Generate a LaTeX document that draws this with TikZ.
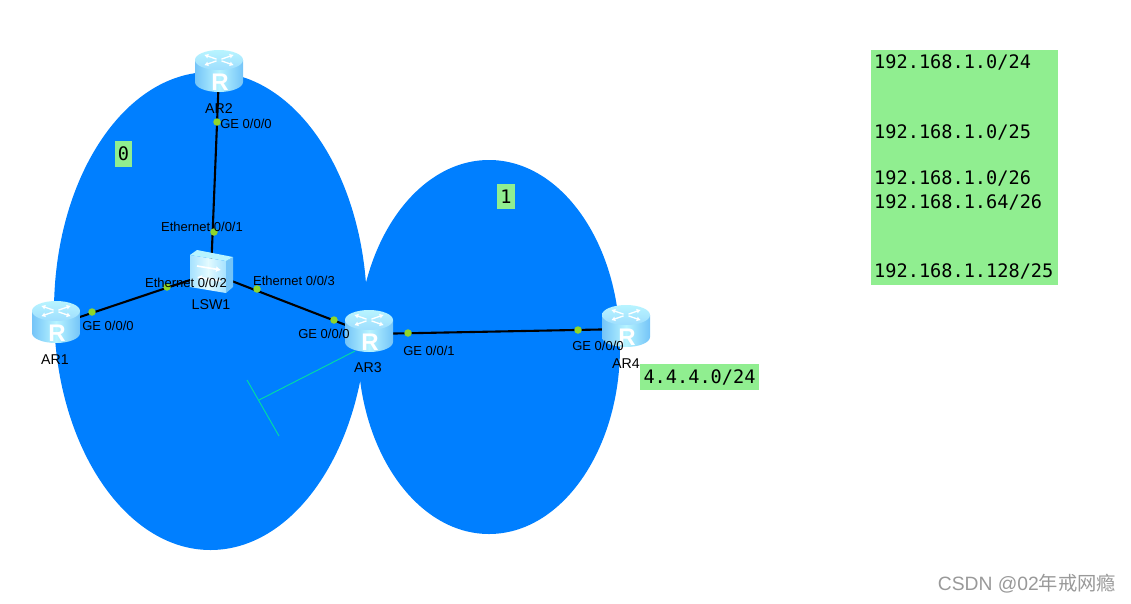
\documentclass[tikz,border=0pt]{standalone}
\usepackage{fontspec}
\setmainfont{Liberation Sans}
\newfontfamily\monofont{DejaVu Sans Mono}
\newfontfamily\cjk{Noto Sans CJK SC}
\usetikzlibrary{arrows.meta}
\usetikzlibrary{shapes.geometric}

\definecolor{areablue}{HTML}{007FFF}
\definecolor{notegreen}{HTML}{90EE90}
\definecolor{portgreen}{HTML}{8FD62A}
\definecolor{stubgreen}{HTML}{00DFA0}
\definecolor{iconlight}{HTML}{B8F4FF}
\definecolor{iconmid}{HTML}{A6E2FF}
\definecolor{icondark}{HTML}{74C4F8}

\tikzset{
  area/.style={ellipse, fill=areablue, inner sep=0pt},
  device/.style={inner sep=0pt, minimum size=1pt},
  link/.style={line width=2.1pt, black},
  stub/.style={line width=0.9pt, stubgreen},
  port/.style={circle, fill=portgreen, inner sep=0pt, minimum size=7.5pt},
  portlabel/.style={inner sep=0pt, font=\fontsize{13}{13}\selectfont},
  devlabel/.style={inner sep=0pt, font=\fontsize{14.2}{14}\selectfont},
  note/.style={fill=notegreen, inner sep=0pt, font=\monofont\fontsize{18.6}{19}\selectfont},
  noteline/.style={inner sep=0pt, anchor=base west, font=\monofont\fontsize{18.6}{19}\selectfont},
  routericon/.pic={
    \shade[left color=icondark, right color=icondark, middle color=iconlight]
      (-24,-14) -- (-24,8) arc (180:0:24 and 10) -- (24,-14) -- cycle;
    \shade[top color=iconlight, bottom color=iconmid!85!icondark] (0,-14) ellipse (24 and 10);
    \foreach \ang in {35,145,215,325}
      \draw[white, line width=1.3pt, -{Latex[length=4pt,width=5pt]}]
        (\ang:3 and 1.5) ++(0,-14) -- ++(\ang:15 and 7.5);
    \node[inner sep=0pt, text=white, font=\bfseries\fontsize{24}{24}\selectfont] (letter) at (1,8) {R};
  },
  switchicon/.pic={
    \fill[icondark] (15,-12) -- (22,-16) -- (22,14) -- (15,20) -- cycle;
    \shade[left color=iconmid, right color=iconmid, middle color=iconlight!40!white]
      (-21,-18) -- (15,-12) -- (15,20) -- (-21,14) -- cycle;
    \fill[iconlight] (-21,-18) -- (-14,-23) -- (22,-16) -- (15,-12) -- cycle;
    \draw[white, line width=1.6pt, -{Latex[length=5pt,width=6pt]}] (-14,-7) -- (10,-3);
    \draw[white, line width=1.6pt, -{Latex[length=5pt,width=6pt]}] (10,8) -- (-14,4);
  },
}

\begin{document}
\begin{tikzpicture}[x=1pt,y=-1pt]
  \useasboundingbox (0,0) rectangle (1131,603);
  % Areas
  \node[area, minimum width=313pt, minimum height=478pt] (area0) at (210.5,311) {};
  \node[area, minimum width=262pt, minimum height=374pt] (area1) at (489,347) {};
  % Devices
  \node[device] (AR1) at (56,325) {};
  \node[device] (AR2) at (219,74) {};
  \node[device] (AR3) at (369,334) {};
  \node[device] (AR4) at (626,329) {};
  \node[device] (LSW1) at (211,273) {};
  % Links
  \draw[link] (AR1) -- (LSW1);
  \draw[link] (AR2) -- (LSW1);
  \draw[link] (LSW1) -- (AR3);
  \draw[link] (AR3) -- (AR4);
  % Stub
  \coordinate (stubfoot) at (259,400);
  \coordinate (stubtop) at (247,380);
  \coordinate (stubend) at (279,436);
  \draw[stub] (AR3) ++(-14,17) -- (stubfoot);
  \draw[stub] (stubtop) -- (stubend);
  % Icons
  \pic (AR1icon) at (AR1) {routericon};
  \pic (AR2icon) at (AR2) {routericon};
  \pic (AR3icon) at (AR3) {routericon};
  \pic (AR4icon) at (AR4) {routericon};
  \pic (LSW1icon) at (LSW1) {switchicon};
  % Ports
  \node[port] (p1) at (92,312) {};
  \node[port] (p2) at (167,287) {};
  \node[port] (p3) at (217,122) {};
  \node[port] (p4) at (214,232) {};
  \node[port] (p5) at (257,289) {};
  \node[port] (p6) at (334,320) {};
  \node[port] (p7) at (408,333) {};
  \node[port] (p8) at (578,330) {};
  % Labels
  \node[portlabel] (l1) at (108,326) {GE 0/0/0};
  \node[portlabel] (l2) at (186,283) {Ethernet 0/0/2};
  \node[portlabel] (l3) at (246,124) {GE 0/0/0};
  \node[portlabel] (l4) at (202,227) {Ethernet 0/0/1};
  \node[portlabel] (l5) at (294,281) {Ethernet 0/0/3};
  \node[portlabel] (l6) at (324,334) {GE 0/0/0};
  \node[portlabel] (l7) at (429,351) {GE 0/0/1};
  \node[portlabel] (l8) at (598,346) {GE 0/0/0};
  \node[devlabel] (nAR1) at (55,360) {AR1};
  \node[devlabel] (nAR2) at (219,109) {AR2};
  \node[devlabel] (nAR3) at (368,368) {AR3};
  \node[devlabel] (nAR4) at (626,364) {AR4};
  \node[devlabel] (nLSW1) at (211,305) {LSW1};
  % Notes
  \node[note, minimum width=17pt, minimum height=26pt] (id0) at (123.5,154) {0};
  \node[note, minimum width=18pt, minimum height=25pt] (id1) at (506,196.5) {1};
  \node[note, minimum width=119pt, minimum height=26pt] (loop4) at (699.5,377) {4.4.4.0/24};
  \node[note, minimum width=187pt, minimum height=235pt] (subnets) at (964.5,167.5) {};
  \foreach \ip/\ypos in {{192.168.1.0/24}/68,{192.168.1.0/25}/138,{192.168.1.0/26}/184,{192.168.1.64/26}/208,{192.168.1.128/25}/277}
    \node[noteline] (ip\ypos) at (874,\ypos) {\ip};
  \node[inner sep=0pt, text=black!40, font=\fontsize{19.3}{20}\selectfont] (mark) at (1027,584) {CSDN @02{\cjk 年戒网瘾}};
\end{tikzpicture}
\end{document}
